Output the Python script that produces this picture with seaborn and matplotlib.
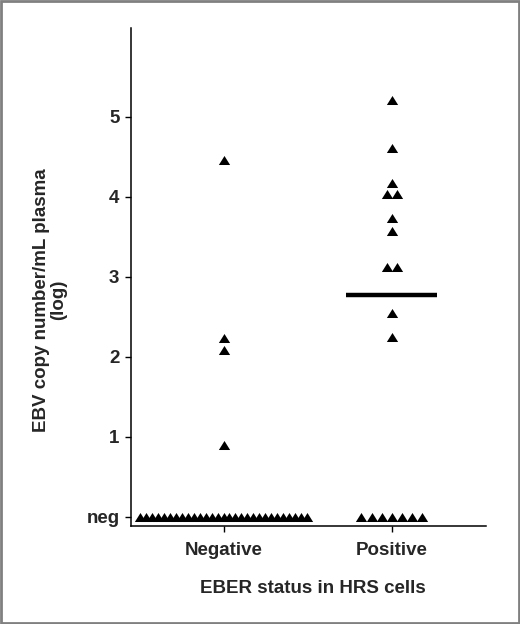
import numpy as np
import pandas as pd
import seaborn as sns
import matplotlib.pyplot as plt
from matplotlib.patches import Rectangle

# ---- data (log10 EBV copies / mL plasma, 0 = "neg") ----
groups = ["Negative", "Positive"]
negative_detected = [4.46, 2.24, 2.09, 0.90]
negative_undetected = 29          # triangles sitting on the "neg" line
positive_detected = [5.21, 4.61, 4.175, 4.03, 4.03, 3.74, 3.575, 3.125, 3.125, 2.55, 2.25]
positive_undetected = 7
positive_median = 2.78

ytick_vals = [0, 1, 2, 3, 4, 5]
ytick_labels = ["neg", "1", "2", "3", "4", "5"]

# ---- build table ----
rows = []
for g, det, n0 in [(groups[0], negative_detected, negative_undetected),
                   (groups[1], positive_detected, positive_undetected)]:
    vals = list(det) + [0.0] * n0
    for v in vals:
        rows.append({"group": g, "value": v})
df = pd.DataFrame(rows)
df["gx"] = df["group"].map({g: i for i, g in enumerate(groups)})


# tied values are laid out side by side around the group centre
def spread(sub, step_max=0.06, span_max=0.99):
    off = np.zeros(len(sub))
    for v in sub["value"].unique():
        idx = np.where(sub["value"].values == v)[0]
        n = len(idx)
        if n > 1:
            step = min(step_max, span_max / (n - 1))
            off[idx] = (np.arange(n) - (n - 1) / 2) * step
    return pd.Series(off, index=sub.index)


df["x"] = df["gx"] + df.groupby("group", group_keys=False).apply(spread)

# ---- figure ----
sns.set_theme(style="ticks")
plt.rcParams["font.family"] = ["Liberation Sans", "DejaVu Sans"]
plt.rcParams["font.weight"] = "bold"

fig = plt.figure(figsize=(5.2, 6.24), dpi=100)
fig.patch.set_facecolor("white")
fig.patches.append(Rectangle((0.002, 0.002), 0.996, 0.996, transform=fig.transFigure,
                             fill=False, edgecolor="#808080", linewidth=2.0))

ax = fig.add_axes([131 / 520, 98 / 624, 355 / 520, 498 / 624])

# slightly flattened triangle, like the original plotting symbol
tri = [(-1.0, -0.8), (1.0, -0.8), (0.0, 0.8), (-1.0, -0.8)]
sns.scatterplot(data=df, x="x", y="value", marker=tri, s=66, color="black",
                linewidth=0, ax=ax, legend=False, zorder=3)

# median bar for the EBER positive group
ax.hlines(positive_median, 1 - 0.27, 1 + 0.27, color="black", linewidth=3.2, zorder=4)

ax.set_xlim(-0.55, 1.56)
ax.set_ylim(-0.1125, 6.11)
ax.set_xticks(range(len(groups)), groups)
ax.set_yticks(ytick_vals, ytick_labels)

for side in ["top", "right"]:
    ax.spines[side].set_visible(False)
for side in ["left", "bottom"]:
    ax.spines[side].set_linewidth(1.1)
    ax.spines[side].set_color("black")

ax.tick_params(axis="both", length=4.3, width=1.0, color="black", labelsize=13.5)
ax.tick_params(axis="x", pad=7)
ax.tick_params(axis="y", pad=4)
for lab in ax.get_xticklabels() + ax.get_yticklabels():
    lab.set_fontweight("bold")

ax.set_xlabel("EBER status in HRS cells", fontsize=13.5, fontweight="bold")
ax.set_ylabel("EBV copy number/mL plasma\n(log)", fontsize=13.5, fontweight="bold",
              linespacing=1.0)
ax.xaxis.set_label_coords(0.513, -0.108)
ax.yaxis.set_label_coords(-0.18, 0.454)

fig.savefig("out.png", dpi=100)
